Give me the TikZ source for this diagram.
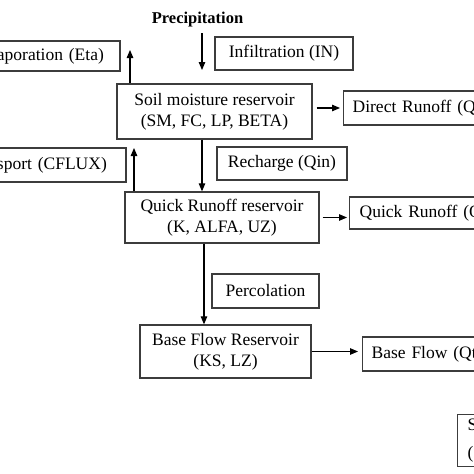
\documentclass[tikz,border=0pt]{standalone}
\usepackage{fontspec}
\setmainfont{Liberation Serif}
\usetikzlibrary{arrows.meta, calc}
\definecolor{boxline}{RGB}{60,60,60}

\begin{document}
\begin{tikzpicture}[x=1pt, y=-1pt,
  box/.style={draw=boxline, line width=1.3pt, align=center, inner sep=0pt,
    font=\fontsize{17.5}{21}\selectfont},
  flow/.style={-{Triangle[length=8pt,width=6.5pt]}, line width=1.1pt}]
  \useasboundingbox (0,0) rectangle (474,474);
  \clip (0,0) rectangle (474,474);

  \node[font=\fontsize{16.5}{20}\selectfont\bfseries] (precip) at (197.5,20) {Precipitation};
  \node[box, minimum width=138pt, minimum height=33pt] (infil) at (284,53.5) {Infiltration (IN)};
  \node[box, minimum width=195pt, minimum height=55pt] (soil) at (214.5,111.5) {Soil moisture reservoir\\(SM, FC, LP, BETA)};
  \node[box, minimum width=130pt, minimum height=33pt] (recharge) at (282,163.5) {Recharge (Qin)};
  \node[box, minimum width=194pt, minimum height=51pt] (quick) at (222,217.5) {Quick Runoff reservoir\\(K, ALFA, UZ)};
  \node[box, minimum width=107pt, minimum height=34pt] (perc) at (265.5,291) {Percolation};
  \node[box, minimum width=171pt, minimum height=53pt] (base) at (225.5,351.5) {Base Flow Reservoir\\(KS, LZ)};

  % boxes cut by the edges
  \node[box, anchor=east, align=right, text width=130pt, inner xsep=16pt, minimum height=30pt] (evap) at (120.5,56) {aporation (Eta)};
  \node[box, anchor=east, align=right, text width=130pt, inner xsep=19pt, minimum height=34pt] (cflux) at (126.5,165) {sport (CFLUX)};
  \node[box, anchor=west, align=left, text width=140pt, inner xsep=9pt, minimum height=34pt] (direct) at (343,108) {Direct Runoff (Q};
  \node[box, anchor=west, align=left, text width=140pt, inner xsep=10pt, minimum height=32pt] (qrun) at (349,213) {Quick Runoff (Q};
  \node[box, anchor=west, align=left, text width=140pt, inner xsep=9pt, minimum height=34pt] (bflow) at (362,354) {Base Flow (Qt};
  \node[box, anchor=north west, align=left, text width=40pt, inner xsep=10pt, minimum height=52pt] (store) at (457,414) {S\\[7pt](};

  \coordinate (ptop) at (202,33);
  \coordinate (pend) at (202,70);
  \coordinate (etip) at (130,50);
  \coordinate (ctip) at (134,148);
  \coordinate (a1) at (202,0);
  \coordinate (a2) at (204,0);

  \draw[flow] (ptop) -- (pend);
  \draw[flow] (soil.north -| etip) -- (etip);
  \draw[flow] (quick.north -| ctip) -- (ctip);
  \draw[flow] (soil.south -| a1) -- (quick.north -| a1);
  \draw[flow] (quick.south -| a2) -- (base.north -| a2);
  \draw[flow, shorten <=4pt, shorten >=3pt] (soil.east |- direct.west) -- (direct.west);
  \draw[flow, shorten <=3pt, shorten >=2pt] (quick.east) -- (quick.east -| qrun.west);
  \draw[flow, shorten >=4pt] (base.east) -- (base.east -| bflow.west);
\end{tikzpicture}
\end{document}
